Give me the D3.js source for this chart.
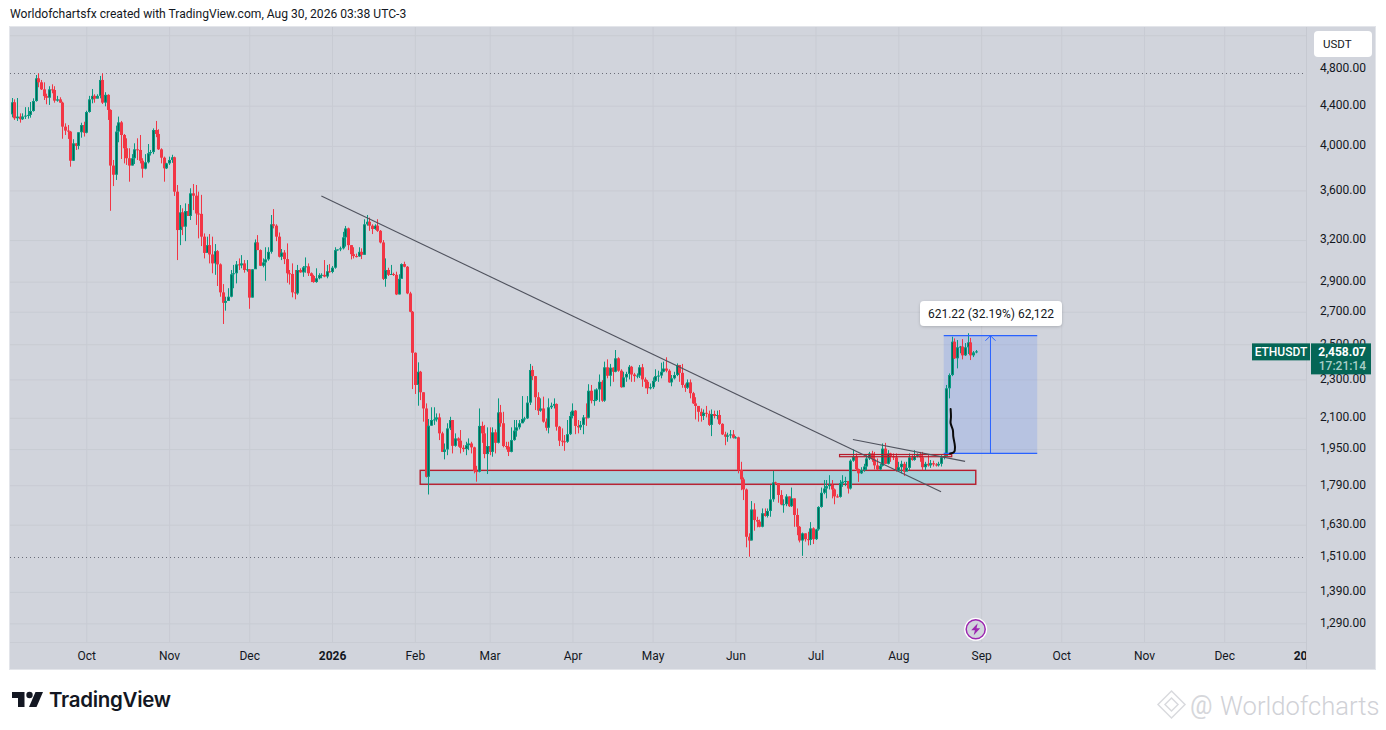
<!DOCTYPE html>
<html>
<head>
<meta charset="utf-8">
<title>ETHUSDT</title>
<script src="https://cdn.jsdelivr.net/npm/d3@7"></script>
<style>
  html, body { margin: 0; padding: 0; background: #fff; }
  svg { display: block; font-family: Roboto, sans-serif; }
</style>
</head>
<body>
<svg id="chart" width="1386" height="730"></svg>
<script>
// daily candles. open = previous close
const firstDay = "2025-09-03";
const firstOpen = 4311;
const closes = [
  4436,4271,4288,4261,4288,4298,4305,4345,4449,4695,
  4651,4574,4501,4484,4574,4567,4453,4467,4432,4187,
  4148,4138,3862,4025,4000,4132,4203,4127,4335,4467,
  4504,4474,4504,4677,4432,4515,4356,3818,3736,4138,
  4230,4105,3978,3885,3818,3885,3968,3962,3862,3790,
  3848,3932,3942,4154,4115,3968,3890,3793,3838,3869,
  3894,3589,3277,3417,3303,3428,3388,3575,3555,3408,
  3405,3226,3104,3162,3093,3028,3117,3021,2827,2758,
  2770,2798,2951,2958,3021,3014,3028,2981,2986,2792,
  2986,3182,3125,3011,3035,3057,3112,3322,3311,3226,
  3076,3107,3059,2958,2953,2827,2820,2981,2964,3000,
  3007,2958,2939,2897,2923,2945,2947,2935,2972,2967,
  2997,3125,3130,3138,3221,3290,3162,3095,3081,3078,
  3112,3090,3322,3342,3311,3285,3311,3271,3182,2919,
  2981,2947,2953,2947,2813,2919,3023,3004,2820,2700,
  2450,2270,2342,2231,2147,1826,2061,2089,2092,2102,
  2024,1937,1948,2048,2089,1965,2000,1989,1956,1950,
  1968,1976,1958,1851,1848,2060,2024,1927,1964,1937,
  2029,1979,2127,2073,1964,1961,1937,1992,2037,2053,
  2073,2094,2097,2177,2352,2318,2205,2136,2147,2081,
  2051,2153,2161,2170,2056,1989,1986,1984,2020,2109,
  2136,2060,2053,2065,2102,2100,2239,2187,2190,2246,
  2287,2187,2367,2320,2365,2342,2418,2348,2258,2311,
  2330,2370,2327,2318,2321,2367,2300,2287,2252,2258,
  2292,2318,2321,2342,2360,2348,2284,2306,2324,2380,
  2336,2270,2255,2284,2226,2173,2160,2130,2109,2125,
  2120,2065,2119,2109,2114,2070,2019,2008,2014,2019,
  2003,2005,1855,1815,1772,1584,1570,1690,1648,1642,
  1622,1675,1664,1684,1731,1802,1799,1749,1710,1711,
  1743,1703,1735,1668,1622,1570,1597,1575,1572,1616,
  1575,1612,1700,1758,1776,1786,1791,1772,1743,1741,
  1799,1805,1808,1776,1897,1915,1860,1841,1855,1871,
  1907,1930,1903,1876,1858,1874,1952,1883,1930,1918,
  1912,1852,1868,1883,1848,1865,1912,1900,1918,1922,
  1912,1868,1883,1876,1886,1880,1876,1883,1912,1918,
  2252,2324,2515,2418,2482,2486,2435,2482,2511,2435,
  2452,2458.07
];
const highs = [
  4481,4467,4481,4321,4321,4385,4385,4439,4478,4732,
  4751,4677,4651,4527,4608,4629,4608,4504,4489,4442,
  4220,4203,4145,4064,4025,4132,4226,4236,4348,4504,
  4578,4521,4521,4722,4751,4543,4521,4363,3869,4197,
  4288,4244,4115,4073,3978,3923,4025,4073,4105,3885,
  3923,4018,3962,4170,4244,4161,3978,3900,3843,3900,
  3917,3900,3646,3477,3450,3491,3486,3618,3655,3646,
  3589,3562,3251,3226,3246,3226,3170,3125,3028,2883,
  2798,2855,2981,3017,3045,3064,3088,3052,3052,2988,
  2988,3205,3238,3130,3064,3146,3146,3396,3444,3322,
  3258,3133,3125,3175,2981,3028,2981,3017,2993,3009,
  3071,3028,2964,2947,2993,2958,2958,3052,3017,3023,
  3009,3146,3130,3151,3263,3309,3296,3162,3146,3099,
  3146,3138,3362,3396,3375,3322,3322,3362,3277,3200,
  3064,2997,3017,2962,2969,2951,3028,3040,3009,2831,
  2705,2452,2395,2347,2231,2173,2094,2153,2153,2122,
  2122,2032,1976,2073,2105,2089,2024,2005,2040,1968,
  1984,2000,1984,1961,1874,2147,2081,2065,2053,2053,
  2053,2043,2199,2165,2130,1984,1984,2053,2089,2089,
  2089,2211,2105,2211,2386,2375,2318,2231,2199,2208,
  2097,2199,2177,2199,2173,2060,2048,2016,2089,2130,
  2173,2139,2089,2084,2114,2173,2274,2270,2246,2252,
  2327,2296,2399,2412,2386,2367,2466,2424,2356,2342,
  2342,2380,2375,2336,2333,2380,2386,2311,2296,2278,
  2311,2356,2348,2393,2399,2424,2356,2324,2342,2389,
  2380,2386,2278,2300,2300,2233,2205,2151,2147,2142,
  2160,2136,2142,2136,2136,2139,2073,2032,2027,2040,
  2040,2011,2008,1892,1823,1776,1597,1724,1715,1661,
  1650,1694,1694,1694,1791,1852,1805,1799,1769,1731,
  1752,1743,1780,1735,1694,1625,1600,1597,1603,1640,
  1620,1614,1703,1780,1812,1812,1833,1812,1776,1752,
  1812,1833,1826,1808,1903,1948,1930,1862,1868,1883,
  1922,1937,1942,1937,1907,1883,1976,1979,1945,1933,
  1930,1930,1892,1897,1892,1892,1930,1922,1945,1930,
  1937,1937,1892,1925,1900,1897,1886,1892,1922,1922,
  2270,2333,2545,2535,2525,2490,2531,2507,2566,2538,
  2460,2466
];
const lows = [
  4281,4254,4244,4227,4254,4264,4267,4277,4338,4442,
  4597,4567,4460,4415,4408,4532,4432,4442,4432,4069,
  4105,4067,3808,3860,3962,3968,4079,4090,4121,4328,
  4425,4432,4478,4478,4418,4394,4254,3430,3637,3690,
  4035,3878,3838,3824,3675,3818,3832,3869,3838,3710,
  3784,3838,3910,3923,4084,3962,3838,3675,3787,3824,
  3843,3553,3052,3162,3238,3192,3388,3356,3436,3317,
  3213,3155,3064,3104,3028,2958,2947,2870,2798,2623,
  2707,2771,2794,2855,2888,2981,2993,2962,2969,2719,
  2792,2993,3125,3009,3000,2906,3047,3099,3290,3192,
  3071,3052,3023,2892,2880,2794,2781,2811,2962,2933,
  2962,2939,2897,2892,2892,2916,2923,2930,2923,2962,
  2958,2990,3120,3117,3130,3151,3125,3057,3064,3071,
  3076,3059,3090,3311,3271,3246,3279,3263,3175,2911,
  2865,2939,2947,2939,2809,2813,2923,3000,2815,2697,
  2248,2222,2161,2190,2081,1823,1751,2061,2065,2081,
  1992,1937,1903,1922,2040,1930,1961,1961,1930,1937,
  1922,1945,1930,1841,1805,1845,1979,1908,1838,1922,
  1915,1930,1976,2056,1958,1948,1918,1935,1989,2008,
  2043,2073,2081,2094,2165,2296,2139,2114,2130,2076,
  2037,2024,2144,2147,2037,1964,1964,1942,1979,2016,
  2097,2020,2024,2040,2020,2060,2097,2173,2161,2185,
  2181,2181,2181,2306,2263,2287,2339,2342,2255,2258,
  2287,2300,2287,2287,2306,2308,2260,2252,2222,2246,
  2249,2287,2287,2306,2339,2339,2282,2263,2300,2318,
  2287,2255,2233,2249,2199,2170,2092,2081,2081,2089,
  2102,2060,2011,2097,2092,2065,2016,1968,1984,2000,
  1999,1999,1841,1769,1728,1545,1511,1570,1607,1620,
  1620,1620,1661,1658,1661,1721,1791,1717,1707,1677,
  1703,1700,1700,1622,1590,1563,1514,1566,1552,1553,
  1557,1572,1607,1697,1752,1735,1772,1735,1711,1738,
  1738,1783,1786,1755,1772,1892,1852,1804,1838,1848,
  1855,1900,1892,1858,1855,1855,1871,1883,1880,1892,
  1900,1848,1848,1841,1830,1852,1855,1897,1897,1912,
  1892,1855,1855,1871,1865,1871,1871,1871,1871,1903,
  1918,2199,2318,2414,2361,2447,2412,2431,2443,2408,
  2425,2447
];

// axes
const priceTicks = [4800,4400,4000,3600,3200,2900,2700,2500,2300,2100,1950,1790,1630,1510,1390,1290];
const gridPrices = [5200,4400,4000,3600,3200,2900,2700,2500,2300,2100,1950,1790,1630,1390,1290];
const timeTicks = ["2025-10-01","2025-11-01","2025-12-01","2026-01-01","2026-02-01","2026-03-01","2026-04-01","2026-05-01","2026-06-01","2026-07-01","2026-08-01","2026-09-01","2026-10-01","2026-11-01","2026-12-01","2027-01-01"];
const timeLabels = ["Oct","Nov","Dec","2026","Feb","Mar","Apr","May","Jun","Jul","Aug","Sep","Oct","Nov","Dec","2027"];

// drawings
const highLine = 4755, lowLine = 1510;
const mainTrend = [["2025-12-28", 3552], ["2026-08-17", 1762]];
const shortTrend = [["2026-07-15", 1995], ["2026-08-26", 1894]];
const demandZone = { from: "2026-02-03", to: "2026-08-30", top: 1854, bottom: 1794 };
const narrowZone = { from: "2026-07-10", to: "2026-08-21", top: 1925, bottom: 1915 };
const measure = { from: "2026-08-18", to: "2026-09-22", base: 1930, peak: 2551 };
const brushDays = [323.6,323.7,323.6,324.4,324.6,325.2,324.9,323.4];
const brushPrices = [2144,2105,2073,2040,2008,1961,1937,1930];
const lastPrice = 2458.07;

const parse = d3.utcParse("%Y-%m-%d");
const pane = { left: 10, right: 1306, top: 27, bottom: 642 };

const x = d3.scaleUtc().domain([parse("2025-10-01"), parse("2027-01-01")]).range([86.3, 1307]);
const y = d3.scaleLog().domain([4800, 1290]).range([69, 623.4]);

const candles = closes.map((c, i) => ({
  date: d3.utcDay.offset(parse(firstDay), i),
  open: i === 0 ? firstOpen : closes[i - 1],
  close: c,
  high: highs[i],
  low: lows[i]
}));

const svg = d3.select("#chart");
const defs = svg.append("defs");
defs.append("clipPath").attr("id", "paneClip").append("rect")
  .attr("x", pane.left).attr("y", pane.top)
  .attr("width", pane.right - pane.left).attr("height", pane.bottom - pane.top);
defs.append("clipPath").attr("id", "timeClip").append("rect")
  .attr("x", pane.left).attr("y", pane.bottom)
  .attr("width", pane.right - pane.left).attr("height", 30);
const shadow = defs.append("filter").attr("id", "soft")
  .attr("x", "-10%").attr("y", "-30%").attr("width", "120%").attr("height", "170%");
shadow.append("feDropShadow").attr("dx", 0).attr("dy", 1).attr("stdDeviation", 1.5)
  .attr("flood-color", "#000").attr("flood-opacity", 0.18);

// top caption
svg.append("text").attr("x", 10).attr("y", 18)
  .attr("font-size", 12.1).attr("fill", "#131722")
  .text("Worldofchartsfx created with TradingView.com, Aug 30, 2026 03:38 UTC-3");

// panel
svg.append("rect").attr("x", 9.5).attr("y", 26.5).attr("width", 1366).attr("height", 643)
  .attr("fill", "#d1d4dc").attr("stroke", "#e3e5ea");

// grid
const gridColor = "#c8cbd3";
const gridY = svg.append("g").attr("transform", `translate(${pane.right},0)`)
  .call(d3.axisLeft(y).tickValues(gridPrices).tickSize(pane.right - pane.left).tickFormat(""));
gridY.select(".domain").remove();
gridY.selectAll("line").attr("stroke", gridColor);

const gridX = svg.append("g").attr("clip-path", "url(#paneClip)")
  .append("g").attr("transform", `translate(0,${pane.bottom})`)
  .call(d3.axisTop(x).tickValues(timeTicks.map(parse)).tickSize(pane.bottom - pane.top).tickFormat(""));
gridX.select(".domain").remove();
gridX.selectAll("line").attr("stroke", gridColor);

// pane borders
svg.append("line").attr("x1", pane.right + 0.5).attr("x2", pane.right + 0.5)
  .attr("y1", 27).attr("y2", 669).attr("stroke", "#c6c9d1");
svg.append("line").attr("x1", 10).attr("x2", pane.right).attr("y1", pane.bottom + 0.5).attr("y2", pane.bottom + 0.5)
  .attr("stroke", "#c9ccd4");

const plot = svg.append("g").attr("clip-path", "url(#paneClip)");

// high / low dotted
plot.selectAll("line.extreme").data([highLine, lowLine]).enter().append("line")
  .attr("class", "extreme")
  .attr("x1", pane.left).attr("x2", pane.right)
  .attr("y1", d => Math.round(y(d)) + 0.5).attr("y2", d => Math.round(y(d)) + 0.5)
  .attr("stroke", "#6a6d78").attr("stroke-dasharray", "1 3");

function drawZone(z, sw) {
  plot.append("rect")
    .attr("x", x(parse(z.from))).attr("y", y(z.top))
    .attr("width", x(parse(z.to)) - x(parse(z.from)))
    .attr("height", y(z.bottom) - y(z.top))
    .attr("fill", "#a9d0da").attr("stroke", "#b71c2c").attr("stroke-width", sw);
}
drawZone(demandZone, 1.4);

// measure box
const mx0 = x(parse(measure.from)), mx1 = x(parse(measure.to));
plot.append("rect").attr("x", mx0).attr("y", y(measure.peak))
  .attr("width", mx1 - mx0).attr("height", y(measure.base) - y(measure.peak))
  .attr("fill", "#2962ff").attr("fill-opacity", 0.15);

// candles
const upBorder = "#089981", upFill = "#056656", downColor = "#f23645";
const bar = plot.selectAll("g.candle").data(candles).enter().append("g").attr("class", "candle");
bar.append("rect")
  .attr("x", d => Math.round(x(d.date)))
  .attr("width", 1)
  .attr("y", d => y(d.high))
  .attr("height", d => Math.max(1, y(d.low) - y(d.high)))
  .attr("fill", d => d.close >= d.open ? upBorder : downColor);
bar.append("rect")
  .attr("x", d => Math.round(x(d.date)) - 1)
  .attr("width", 3)
  .attr("y", d => y(Math.max(d.open, d.close)))
  .attr("height", d => Math.max(1, Math.abs(y(d.open) - y(d.close))))
  .attr("fill", d => d.close >= d.open ? upBorder : downColor);
// darker middle of the green bodies
bar.filter(d => d.close >= d.open && Math.abs(y(d.open) - y(d.close)) > 3).append("rect")
  .attr("x", d => Math.round(x(d.date)))
  .attr("width", 1)
  .attr("y", d => y(d.close) + 1)
  .attr("height", d => y(d.open) - y(d.close) - 2)
  .attr("fill", upFill);

// narrow red box goes over the candles
plot.append("rect")
  .attr("x", x(parse(narrowZone.from))).attr("y", y(narrowZone.top))
  .attr("width", x(parse(narrowZone.to)) - x(parse(narrowZone.from)))
  .attr("height", y(narrowZone.bottom) - y(narrowZone.top))
  .attr("fill", "none").attr("stroke", "#b71c2c").attr("stroke-width", 1.2);

// trend lines
const segment = d3.line().x(d => x(parse(d[0]))).y(d => y(d[1]));
plot.selectAll("path.trend").data([mainTrend, shortTrend]).enter().append("path")
  .attr("class", "trend").attr("d", segment)
  .attr("fill", "none").attr("stroke", "#50535e").attr("stroke-width", 1.1);

// measure lines and arrow
const blue = "#2962ff";
plot.selectAll("line.edge").data([measure.peak, measure.base]).enter().append("line")
  .attr("class", "edge")
  .attr("x1", mx0).attr("x2", mx1)
  .attr("y1", d => y(d)).attr("y2", d => y(d))
  .attr("stroke", blue).attr("stroke-width", 1.2);
const mid = (mx0 + mx1) / 2;
plot.append("line").attr("x1", mid).attr("x2", mid)
  .attr("y1", y(measure.base)).attr("y2", y(measure.peak))
  .attr("stroke", blue);
plot.append("path")
  .attr("d", `M${mid - 5},${y(measure.peak) + 5}L${mid},${y(measure.peak)}L${mid + 5},${y(measure.peak) + 5}`)
  .attr("fill", "none").attr("stroke", blue);

// hand drawn brush
const brush = d3.line()
  .x(d => x(d3.utcHour.offset(parse("2025-10-01"), Math.round(d[0] * 24))))
  .y(d => y(d[1]))
  .curve(d3.curveCatmullRom);
plot.append("path").attr("d", brush(d3.zip(brushDays, brushPrices)))
  .attr("fill", "none").attr("stroke", "#0a0a0a").attr("stroke-width", 2).attr("stroke-linecap", "round");

// measure label
svg.append("rect").attr("x", 920).attr("y", 301).attr("width", 142).attr("height", 25).attr("rx", 4)
  .attr("fill", "#fff").attr("filter", "url(#soft)");
svg.append("text").attr("x", 991).attr("y", 317.5).attr("text-anchor", "middle")
  .attr("font-size", 12).attr("fill", "#131722").text("621.22 (32.19%) 62,122");

// lightning badge
const bolt = svg.append("g").attr("transform", "translate(975.7,629.3)");
bolt.append("circle").attr("r", 11.5).attr("fill", "#fff");
bolt.append("circle").attr("r", 9.5).attr("fill", "#d1d4dc").attr("stroke", "#9c27b0").attr("stroke-width", 1.5);
bolt.append("path").attr("d", "M2,-6L-4.5,1L-0.8,1L-2,6L4.5,-1L0.8,-1Z").attr("fill", "#9c27b0");

// price axis
const priceAxis = svg.append("g").attr("transform", "translate(1366,-1)")
  .call(d3.axisLeft(y).tickValues(priceTicks).tickSize(0).tickPadding(0).tickFormat(d3.format(",.2f")));
priceAxis.select(".domain").remove();
priceAxis.selectAll("text").attr("font-family", "Roboto, sans-serif").attr("font-size", 12).attr("fill", "#131722");

// currency box
svg.append("rect").attr("x", 1314).attr("y", 31).attr("width", 58).attr("height", 26).attr("rx", 4).attr("fill", "#fff");
svg.append("text").attr("x", 1323).attr("y", 48).attr("font-size", 11.5).attr("fill", "#131722").text("USDT");

// last price labels
const lastY = y(lastPrice);
svg.append("rect").attr("x", 1252).attr("y", lastY - 8).attr("width", 58).attr("height", 17).attr("fill", "#056656");
svg.append("text").attr("x", 1281).attr("y", lastY + 4.5).attr("text-anchor", "middle")
  .attr("font-size", 12).attr("font-weight", 500).attr("fill", "#fff").text("ETHUSDT");
svg.append("rect").attr("x", 1311).attr("y", lastY - 8).attr("width", 60).attr("height", 31).attr("fill", "#056656");
svg.append("text").attr("x", 1366).attr("y", lastY + 4.5).attr("text-anchor", "end")
  .attr("font-size", 12).attr("font-weight", 700).attr("fill", "#fff").text(d3.format(",.2f")(lastPrice));
svg.append("text").attr("x", 1366).attr("y", lastY + 19).attr("text-anchor", "end")
  .attr("font-size", 12).attr("font-weight", 500).attr("fill", "#a9cfc8").text("17:21:14");

// time axis
const timeAxis = svg.append("g").attr("clip-path", "url(#timeClip)")
  .append("g").attr("transform", `translate(0,${pane.bottom})`)
  .call(d3.axisBottom(x).tickValues(timeTicks.map(parse)).tickSize(0).tickPadding(9)
    .tickFormat((d, i) => timeLabels[i]));
timeAxis.select(".domain").remove();
timeAxis.selectAll("text")
  .attr("font-family", "Roboto, sans-serif").attr("font-size", 12).attr("fill", "#131722")
  .attr("font-weight", (d, i) => /^20/.test(timeLabels[i]) ? 700 : 400);

// logo
const logo = svg.append("g").attr("fill", "#131722");
logo.append("path").attr("d", "M12,692H24.5V707H18V698H12Z");
logo.append("circle").attr("cx", 29.5).attr("cy", 695).attr("r", 3.2);
logo.append("path").attr("d", "M35.5,692H43L36.5,707H29Z");
logo.append("text").attr("x", 49).attr("y", 707).attr("font-family", "Inter, Roboto, sans-serif")
  .attr("font-size", 20.5).attr("font-weight", 600).attr("letter-spacing", -0.3).text("TradingView");

// watermark
const mark = svg.append("g").attr("fill", "none").attr("stroke", "#d9dade").attr("stroke-width", 1.5);
mark.append("path").attr("d", "M1171.5,691L1185,704.5L1171.5,718L1158,704.5Z");
mark.append("path").attr("d", "M1171.5,698L1178,704.5L1171.5,711L1165,704.5Z");
svg.append("text").attr("x", 1190).attr("y", 714).attr("font-size", 25).attr("fill", "#d6d7db").text("@");
svg.append("text").attr("x", 1220).attr("y", 715).attr("font-size", 25.6).attr("font-weight", 300)
  .attr("fill", "#d0d1d6").text("Worldofcharts");
</script>
</body>
</html>
